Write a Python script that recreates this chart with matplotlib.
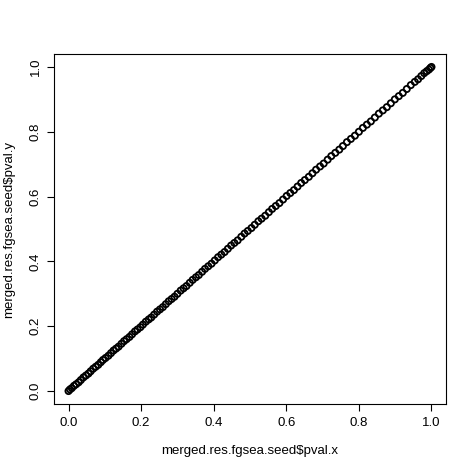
import matplotlib
matplotlib.use("Agg")
import matplotlib.pyplot as plt
plt.rcParams['font.family'] = ['Liberation Sans', 'DejaVu Sans']

pval_x = [0.000,0.004,0.009,0.015,0.021,0.028,0.034,0.041,0.048,0.055,0.061,0.068,0.075,0.082,0.089,0.095,0.102,0.110,0.117,0.124,
          0.131,0.138,0.146,0.153,0.160,0.168,0.175,0.183,0.190,0.198,0.205,0.213,0.221,0.228,0.236,0.244,0.252,0.260,0.268,0.276,
          0.284,0.292,0.300,0.309,0.317,0.325,0.334,0.342,0.351,0.359,0.368,0.376,0.385,0.394,0.403,0.412,0.421,0.430,0.439,0.448,
          0.457,0.466,0.476,0.485,0.494,0.504,0.513,0.523,0.532,0.542,0.552,0.561,0.571,0.581,0.591,0.601,0.611,0.621,0.631,0.641,
          0.651,0.662,0.672,0.682,0.693,0.703,0.714,0.724,0.735,0.746,0.756,0.767,0.778,0.789,0.800,0.811,0.822,0.833,0.844,0.855,
          0.866,0.877,0.888,0.899,0.910,0.921,0.932,0.943,0.954,0.963,0.972,0.980,0.987,0.993,0.997,1.000]
pval_y = [0.000,0.005,0.009,0.016,0.021,0.027,0.034,0.042,0.048,0.054,0.061,0.069,0.075,0.081,0.089,0.096,0.102,0.109,0.117,0.125,
          0.131,0.137,0.146,0.154,0.160,0.167,0.175,0.184,0.190,0.197,0.205,0.214,0.221,0.227,0.236,0.245,0.252,0.259,0.268,0.277,
          0.284,0.291,0.300,0.310,0.317,0.324,0.334,0.343,0.351,0.358,0.368,0.377,0.385,0.393,0.403,0.413,0.421,0.429,0.439,0.449,
          0.457,0.465,0.476,0.486,0.494,0.503,0.513,0.524,0.532,0.541,0.552,0.562,0.571,0.580,0.591,0.602,0.611,0.620,0.631,0.642,
          0.651,0.661,0.672,0.683,0.693,0.702,0.714,0.725,0.735,0.745,0.756,0.768,0.778,0.788,0.800,0.812,0.822,0.832,0.844,0.856,
          0.866,0.876,0.888,0.900,0.910,0.920,0.932,0.944,0.954,0.962,0.972,0.981,0.987,0.992,0.997,1.000]
ticks = [0.0, 0.2, 0.4, 0.6, 0.8, 1.0]
tick_labels = ["0.0", "0.2", "0.4", "0.6", "0.8", "1.0"]

fig = plt.figure(figsize=(4.74, 4.73), dpi=100)
ax = fig.add_axes([54/474, 69/473, 392/474, 350/473])
ax.scatter(pval_x, pval_y, s=20, facecolors='none', edgecolors='black', linewidths=1.3)
ax.set_xlim(-0.04, 1.04)
ax.set_ylim(-0.04, 1.04)
ax.set_xticks(ticks)
ax.set_xticklabels(tick_labels)
ax.set_yticks(ticks)
ax.set_yticklabels(tick_labels, rotation=90, va='center')
ax.tick_params(direction='out', length=5, labelsize=9.5, pad=4)
for s in ax.spines.values():
    s.set_linewidth(0.8)
ax.set_xlabel("merged.res.fgsea.seed$pval.x", fontsize=9.5, labelpad=12)
ax.set_ylabel("merged.res.fgsea.seed$pval.y", fontsize=9.5, labelpad=10)
fig.savefig("out.png", dpi=100)
